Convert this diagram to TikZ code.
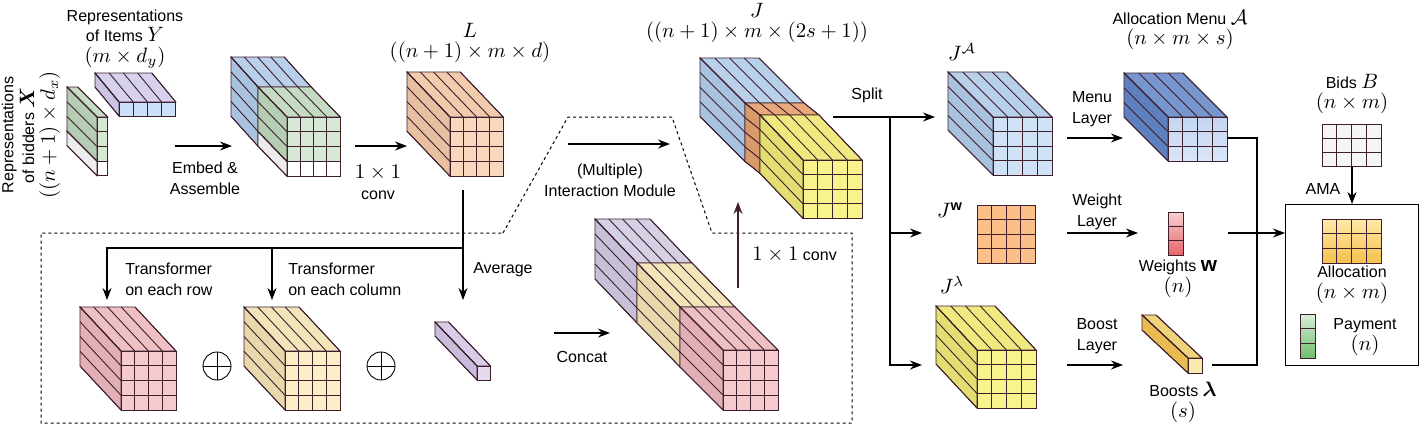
\documentclass[tikz,border=0pt]{standalone}
\usepackage{amsmath,amssymb}
\usepackage{graphicx}
\usepackage{fontspec}
\setmainfont{Liberation Sans}
\usetikzlibrary{positioning}
\usetikzlibrary{arrows.meta}
\usetikzlibrary{calc}
\definecolor{edgec}{HTML}{3D1F2E}
\tikzset{edge/.style={draw=edgec, line width=0.9pt}}
\tikzset{>={Stealth[length=12pt,width=9pt]}}
\tikzset{con/.style={line width=1.1pt}}
\tikzset{lbl/.style={font=\normalsize\setlength{\baselineskip}{13pt}, scale=1.6, transform shape, align=center, inner sep=0pt}}
\newcommand{\mth}[1]{\scalebox{1.3}{$#1$}}
\def\cw{14.5}\def\ch{14.5}
% #1,#2 front top-left, #3 cols, #4 rows, #5,#6 depth, #7 front, #8 top, #9 side
\newcommand{\cube}[9]{%
  \path[edge,#8] (#1,#2) -- ++(-#5,-#6) -- ++(#3*\cw,0) -- ++(#5,#6) -- cycle;
  \path[edge,#9] (#1,#2) -- ++(-#5,-#6) -- ++(0,#4*\ch) -- ++(#5,#6) -- cycle;
  \path[edge,#7] (#1,#2) rectangle ++(#3*\cw,#4*\ch);
  \foreach \i in {0,...,#3}{
    \draw[edge] (#1+\i*\cw,#2) -- ++(-#5,-#6);
    \draw[edge] (#1+\i*\cw,#2) -- ++(0,#4*\ch);}
  \foreach \j in {0,...,#4}{
    \draw[edge] (#1,#2+\j*\ch) -- ++(-#5,-#6);
    \draw[edge] (#1,#2+\j*\ch) -- ++(#3*\cw,0);}
}
\begin{document}
\begin{tikzpicture}[x=1pt,y=-1pt]
  \useasboundingbox (0,0) rectangle (1422,429);

  % inputs
  \node[lbl, rotate=90] (Xlbl) at (31,135) {Representations\\of bidders \mth{\boldsymbol{X}}\\\mth{((n+1)\times d_x)}};
  \node[lbl] (Ylbl) at (125,39) {Representations\\of Items \mth{Y}\\\mth{(m\times d_y)}};
  \def\cw{10.7}\def\ch{14.7}
  \cube{97}{161}{1}{1}{30}{30}{fill=white}{fill=gray!15}{fill=gray!15}
  \cube{97}{117}{1}{3}{30}{30}{fill={rgb,255:red,213;green,232;blue,212}}{fill={rgb,255:red,197;green,220;blue,195}}{fill={rgb,255:red,181;green,206;blue,179}}
  \def\cw{14.2}\def\ch{14}
  \cube{119}{102}{4}{1}{24}{29}{fill={rgb,255:red,204;green,224;blue,250}}{fill={rgb,255:red,214;green,210;blue,238}}{fill={rgb,255:red,200;green,196;blue,228}}

  \coordinate (e1) at (175,146); \coordinate (e2) at (232,146);
  \draw[con,->] (e1) -- (e2);
  \node[lbl] (emb) at (205,178) {Embed \&\\Assemble};

  % assembled
  \def\cw{13.3}\def\ch{14.8}
  \cube{258}{87}{4}{4}{27}{30}{fill={rgb,255:red,207;green,226;blue,246}}{fill={rgb,255:red,185;green,208;blue,234}}{fill={rgb,255:red,169;green,194;blue,224}}
  \cube{287}{161.4}{4}{1}{29}{30}{fill=white}{fill=gray!15}{fill=gray!15}
  \cube{287}{117}{4}{3}{29}{30}{fill={rgb,255:red,213;green,232;blue,212}}{fill={rgb,255:red,197;green,220;blue,195}}{fill={rgb,255:red,181;green,206;blue,179}}

  \coordinate (c1) at (355,146); \coordinate (c2) at (407,146);
  \draw[con,->] (c1) -- (c2);
  \node[lbl] (conv1) at (378,182) {\mth{1\times1}\\conv};

  % L
  \node[lbl] (Llbl) at (470,43) {\mth{L}\\\mth{((n+1)\times m\times d)}};
  \cube{450}{117}{4}{4}{43}{45}{fill={rgb,255:red,250;green,216;blue,190}}{fill={rgb,255:red,242;green,203;blue,173}}{fill={rgb,255:red,232;green,191;blue,160}}

  % interaction module
  \draw[dashed, line width=1pt] (503,233) -- (568,117) -- (672,117) -- (712,233) -- (852,233) -- (852,423) -- (41,423) -- (41,233) -- cycle;
  \coordinate (m1) at (568,144); \coordinate (m2) at (670,144);
  \draw[con,->] (m1) -- (m2);
  \node[lbl] (modlbl) at (610,180) {(Multiple)\\Interaction Module};

  \coordinate (Ld) at (463,190); \coordinate (br) at (463,248);
  \coordinate (rowa) at (107,300); \coordinate (cola) at (272,300); \coordinate (avga) at (463,300);
  \draw[con] (Ld) -- (br);
  \draw[con,->] (br) -- (avga);
  \draw[con,->] (br) -| (rowa);
  \draw[con,->] ($(br)!0.5!(br-|cola)$) -| (cola);
  \node[lbl, anchor=west, align=left] (trow) at (125,279) {Transformer\\on each row};
  \node[lbl, anchor=west, align=left] (tcol) at (288,279) {Transformer\\on each column};
  \node[lbl, anchor=west] (avg) at (473,270) {Average};

  \def\cw{13.75}\def\ch{14.75}
  \cube{121}{351}{4}{4}{41}{44}{fill={rgb,255:red,246;green,202;blue,205}}{fill={rgb,255:red,238;green,192;blue,195}}{fill={rgb,255:red,226;green,176;blue,180}}
  \cube{285}{351}{4}{4}{41}{44}{fill={rgb,255:red,252;green,239;blue,198}}{fill={rgb,255:red,243;green,229;blue,186}}{fill={rgb,255:red,232;green,217;blue,172}}
  \node[draw, circle, line width=0.9pt, minimum size=28pt, inner sep=0pt] (p1) at (217,366) {};
  \draw[line width=0.9pt] (p1.north) -- (p1.south) (p1.west) -- (p1.east);
  \node[draw, circle, line width=0.9pt, minimum size=28pt, inner sep=0pt] (p2) at (381,366) {};
  \draw[line width=0.9pt] (p2.north) -- (p2.south) (p2.west) -- (p2.east);
  \def\cw{13.5}\def\ch{14}
  \cube{477}{366}{1}{1}{42}{44}{fill={rgb,255:red,228;green,217;blue,238}}{fill={rgb,255:red,216;green,204;blue,230}}{fill={rgb,255:red,201;green,188;blue,218}}

  \coordinate (k1) at (554,333); \coordinate (k2) at (610,333);
  \draw[con,->] (k1) -- (k2);
  \node[lbl] (concat) at (582,357) {Concat};

  \def\cw{13.75}\def\ch{15}
  \cube{637}{263}{4}{4}{42}{44}{fill={rgb,255:red,220;green,214;blue,232}}{fill={rgb,255:red,214;green,208;blue,228}}{fill={rgb,255:red,200;green,192;blue,216}}
  \cube{680}{307}{4}{4}{43}{44}{fill={rgb,255:red,252;green,239;blue,198}}{fill={rgb,255:red,243;green,229;blue,186}}{fill={rgb,255:red,232;green,217;blue,172}}
  \cube{723}{350}{4}{4}{43}{43}{fill={rgb,255:red,246;green,202;blue,205}}{fill={rgb,255:red,238;green,192;blue,195}}{fill={rgb,255:red,226;green,176;blue,180}}

  \coordinate (u1) at (738,288); \coordinate (u2) at (738,202);
  \draw[con,->,draw=edgec] (u1) -- (u2);
  \node[lbl, anchor=west] (conv2) at (752,255) {\mth{1\times1} conv};

  % J
  \node[lbl] (Jlbl) at (757,23) {\mth{J}\\\mth{((n+1)\times m\times(2s+1))}};
  \def\cw{14.75}\def\ch{14.6}
  \cube{745}{103}{4}{4}{45}{45}{fill={rgb,255:red,198;green,220;blue,242}}{fill={rgb,255:red,185;green,208;blue,234}}{fill={rgb,255:red,169;green,194;blue,224}}
  \cube{760}{115}{4}{4}{15}{12}{fill={rgb,255:red,232;green,169;blue,122}}{fill={rgb,255:red,232;green,169;blue,122}}{fill={rgb,255:red,217;green,153;blue,106}}
  \cube{803}{160}{4}{4}{43}{45}{fill={rgb,255:red,247;green,244;blue,140}}{fill={rgb,255:red,238;green,234;blue,128}}{fill={rgb,255:red,226;green,222;blue,114}}

  % split
  \coordinate (s0) at (833,117); \coordinate (sA) at (935,117);
  \coordinate (sw) at (922,233); \coordinate (sl) at (922,365); \coordinate (sv) at (890,117);
  \draw[con,->] (s0) -- (sA);
  \draw[con,->] (sv) |- (sw);
  \draw[con,->] (sv) |- (sl);
  \node[lbl] (split) at (867,95) {Split};

  \node[lbl] (JA) at (962,52) {\mth{J^{\mathcal{A}}}};
  \def\cw{14.75}\def\ch{14.5}
  \cube{993}{117}{4}{4}{45}{45}{fill={rgb,255:red,207;green,226;blue,246}}{fill={rgb,255:red,185;green,208;blue,234}}{fill={rgb,255:red,169;green,194;blue,224}}
  \node[lbl] (Jw) at (950,210) {\mth{J^{\mathbf{w}}}};
  \foreach \i in {0,...,3}{\foreach \j in {0,...,3}{
    \draw[edge, fill={rgb,255:red,253;green,191;blue,138}] (977+\i*14.5,205+\j*14.5) rectangle ++(14.5,14.5);}}
  \node[lbl] (Jl) at (952,285) {\mth{J^{\lambda}}};
  \cube{977}{350}{4}{4}{41}{44}{fill={rgb,255:red,247;green,244;blue,140}}{fill={rgb,255:red,238;green,234;blue,128}}{fill={rgb,255:red,226;green,222;blue,114}}

  % layers
  \node[lbl] (menuA) at (1180,30) {Allocation Menu \mth{\mathcal{A}}\\\mth{(n\times m\times s)}};
  \coordinate (a1) at (1067,138); \coordinate (a2) at (1123,138);
  \draw[con,->] (a1) -- (a2);
  \node[lbl] (menuL) at (1092,109) {Menu\\Layer};
  \def\cw{14.75}\def\ch{14.7}
  \cube{1168}{117}{4}{3}{44}{44}{top color={rgb,255:red,196;green,214;blue,242}, bottom color={rgb,255:red,218;green,230;blue,248}}{fill={rgb,255:red,120;green,150;blue,206}}{fill={rgb,255:red,95;green,128;blue,190}}

  \coordinate (w1) at (1067,233); \coordinate (w2) at (1138,233);
  \draw[con,->] (w1) -- (w2);
  \node[lbl] (weightL) at (1097,212) {Weight\\Layer};
  \path[edge, top color={rgb,255:red,248;green,208;blue,212}, bottom color={rgb,255:red,230;green,100;blue,104}] (1168,212) rectangle (1183,255);
  \draw[edge] (1168,226.3) -- (1183,226.3) (1168,240.7) -- (1183,240.7);
  \node[lbl] (weights) at (1178,279) {Weights \mth{\mathbf{w}}\\\mth{(n)}};

  \coordinate (b1) at (1067,365); \coordinate (b2) at (1123,365);
  \draw[con,->] (b1) -- (b2);
  \node[lbl] (boostL) at (1097,336) {Boost\\Layer};
  \def\cw{14}\def\ch{15}
  \cube{1188}{358}{1}{1}{46}{43}{fill={rgb,255:red,251;green,234;blue,176}}{fill={rgb,255:red,240;green,210;blue,122}}{fill={rgb,255:red,232;green,188;blue,80}}
  \node[lbl] (boosts) at (1183,402) {Boosts \mth{\boldsymbol{\lambda}}\\\mth{(s)}};

  % AMA
  \coordinate (mo) at (1227,138); \coordinate (bo) at (1212,365);
  \coordinate (wo) at (1228,233); \coordinate (ama) at (1285,233);
  \draw[con] (mo) -| (1257,365) -- (bo);
  \draw[con,->] (wo) -- (ama);
  \draw[line width=1pt] (1285,204) rectangle (1418,365);
  \node[lbl] (bids) at (1352,94) {Bids \mth{B}\\\mth{(n\times m)}};
  \foreach \i in {0,...,3}{\foreach \j in {0,...,2}{
    \draw[edge, fill=gray!8] (1322+\i*14.75,124+\j*14.3) rectangle ++(14.75,14.3);}}
  \coordinate (bd) at (1352,167); \coordinate (bt) at (1352,204);
  \draw[con,->] (bd) -- (bt);
  \node[lbl] (amalbl) at (1323,189) {AMA};
  \path[edge, top color={rgb,255:red,255;green,233;blue,168}, bottom color={rgb,255:red,246;green,193;blue,78}] (1322,219) rectangle (1381,263);
  \foreach \i in {1,2,3}{\draw[edge] (1322+\i*14.75,219) -- ++(0,44);}
  \foreach \j in {1,2}{\draw[edge] (1322,219+\j*14.67) -- ++(59,0);}
  \node[lbl] (alloc) at (1352,285) {Allocation\\\mth{(n\times m)}};
  \path[edge, top color={rgb,255:red,220;green,238;blue,218}, bottom color={rgb,255:red,109;green,190;blue,106}] (1300,314) rectangle (1315,358);
  \draw[edge] (1300,328.7) -- (1315,328.7) (1300,343.3) -- (1315,343.3);
  \node[lbl] (pay) at (1365,337) {Payment\\\mth{(n)}};
\end{tikzpicture}
\end{document}
